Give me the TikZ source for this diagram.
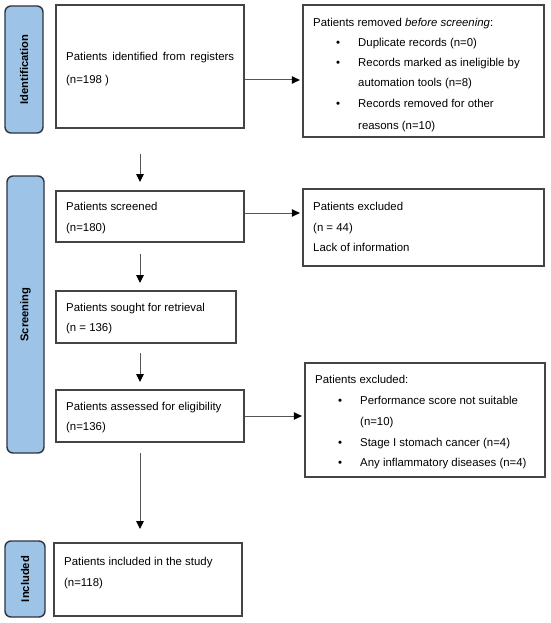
\documentclass[tikz,border=0pt]{standalone}
\usepackage{fontspec}
\setmainfont{Liberation Sans}
\usetikzlibrary{arrows.meta}
\definecolor{barblue}{HTML}{9DC3E6}
\definecolor{edge}{HTML}{444444}
\definecolor{baredge}{HTML}{2E3440}
\definecolor{arrline}{HTML}{555555}
\begin{document}
\begin{tikzpicture}[x=1pt,y=-1pt,
 box/.style={draw=edge, line width=1.3pt, inner sep=0pt},
 bar/.style={draw=baredge, line width=1.4pt, fill=barblue, rounded corners=6pt, rotate=90, inner sep=0pt,
   font=\fontsize{11.2}{13}\selectfont\bfseries},
 txt/.style={anchor=base west, inner sep=0pt, font=\fontsize{11.4}{13}\selectfont},
 bul/.style={anchor=base, inner sep=0pt, font=\fontsize{11.4}{13}\selectfont},
 arr/.style={draw=arrline, line width=1pt, -{Triangle[length=8pt,width=7.5pt,color=black,fill=black]}}]
\useasboundingbox (0,0) rectangle (550,623);
\fill[white] (0,0) rectangle (550,623);

% side bars
\node[bar, minimum width=127pt, minimum height=38pt] (sb1) at (24,69.5) {Identification};
\node[bar, minimum width=277pt, minimum height=37pt] (sb2) at (25.5,314.5) {Screening};
\node[bar, minimum width=76pt, minimum height=40pt] (sb3) at (25,579) {Included};

% left boxes
\node[box, minimum width=188pt, minimum height=123pt] (b1) at (150,66.5) {};
\node[txt] (t1a) at (66,61) {\makebox[168pt][s]{Patients identified from registers}};
\node[txt] (t1b) at (66,84) {(n=198 )};

\node[box, minimum width=188pt, minimum height=51pt] (b2) at (150,216.5) {};
\node[txt] (t2a) at (66,210) {Patients screened};
\node[txt] (t2b) at (66,231) {(n=180)};

\node[box, minimum width=180pt, minimum height=52pt] (b3) at (146,317) {};
\node[txt] (t3a) at (66,311) {Patients sought for retrieval};
\node[txt] (t3b) at (66,331) {(n = 136)};

\node[box, minimum width=188pt, minimum height=52pt] (b4) at (150,416) {};
\node[txt] (t4a) at (66,410) {Patients assessed for eligibility};
\node[txt] (t4b) at (66,430) {(n=136)};

\node[box, minimum width=188pt, minimum height=73pt] (b5) at (148,579.5) {};
\node[txt] (t5a) at (64,565) {Patients included in the study};
\node[txt] (t5b) at (64,586) {(n=118)};

% right boxes
\node[box, minimum width=241pt, minimum height=132pt] (r1) at (423.5,71) {};
\node[txt] (r1a) at (313,27) {Patients removed \textit{before screening}:};
\node[bul] (r1b1) at (338,47) {•};
\node[txt] (r1b) at (358,47) {Duplicate records (n=0)};
\node[bul] (r1c1) at (338,67) {•};
\node[txt] (r1c) at (358,67) {Records marked as ineligible by};
\node[txt] (r1d) at (358,87) {automation tools (n=8)};
\node[bul] (r1e1) at (338,108) {•};
\node[txt] (r1e) at (358,108) {Records removed for other};
\node[txt] (r1f) at (358,129) {reasons (n=10)};

\node[box, minimum width=241pt, minimum height=77pt] (r2) at (423.5,227.5) {};
\node[txt] (r2a) at (313,210) {Patients excluded};
\node[txt] (r2b) at (313,231) {(n = 44)};
\node[txt] (r2c) at (313,251) {Lack of information};

\node[box, minimum width=240pt, minimum height=114pt] (r3) at (425,420) {};
\node[txt] (r3a) at (315,383) {Patients excluded:};
\node[bul] (r3b1) at (340,404) {•};
\node[txt] (r3b) at (360,404) {Performance score not suitable};
\node[txt] (r3c) at (360,425) {(n=10)};
\node[bul] (r3d1) at (340,446) {•};
\node[txt] (r3d) at (360,446) {Stage I stomach cancer (n=4)};
\node[bul] (r3e1) at (340,466) {•};
\node[txt] (r3e) at (360,466) {Any inflammatory diseases (n=4)};

% horizontal arrows
\coordinate (h1) at (0,80);
\coordinate (h2) at (0,213);
\draw[arr, shorten >=2.5pt] (b1.east |- h1) -- (r1.west |- h1);
\draw[arr, shorten >=2.5pt] (b2.east |- h2) -- (r2.west |- h2);
\draw[arr, shorten >=2.5pt] (b4.east) -- (b4.east -| r3.west);

% vertical arrows
\coordinate (v1s) at (140,154); \coordinate (v1e) at (140,182);
\coordinate (v2s) at (140,254); \coordinate (v2e) at (140,283);
\coordinate (v3s) at (140,353); \coordinate (v3e) at (140,382);
\coordinate (v4s) at (140,453); \coordinate (v4e) at (140,529);
\draw[arr] (v1s) -- (v1e);
\draw[arr] (v2s) -- (v2e);
\draw[arr] (v3s) -- (v3e);
\draw[arr] (v4s) -- (v4e);
\end{tikzpicture}
\end{document}
